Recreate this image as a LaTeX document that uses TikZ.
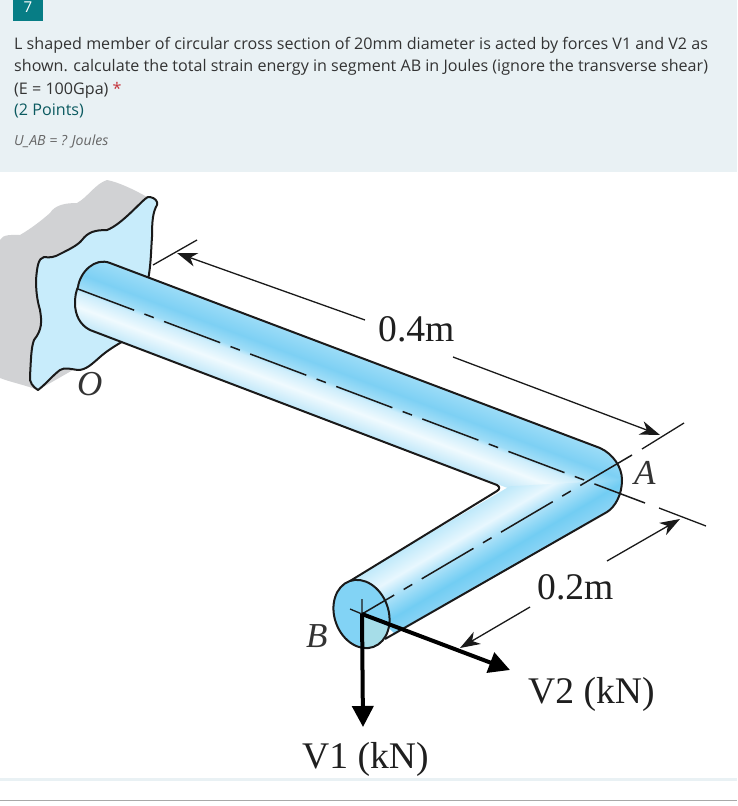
\documentclass[tikz,border=0pt]{standalone}
\usepackage{fontspec}
\setmainfont{Liberation Serif}
\newfontfamily\uifont[FakeStretch=1.007]{Open Sans}
\usetikzlibrary{arrows.meta}
\definecolor{headbg}{HTML}{E9F1F4}
\definecolor{teal7}{HTML}{077D85}
\definecolor{plateblue}{HTML}{C8ECFB}
\definecolor{wallgray}{HTML}{D1D2D4}
\definecolor{capblue}{HTML}{82D3F5}
\definecolor{cappatch}{HTML}{A6DDE8}
\definecolor{inktext}{HTML}{333333}
\definecolor{pointsteal}{HTML}{0B5A60}
\definecolor{hintgray}{HTML}{666666}
\definecolor{stara}{HTML}{C4323A}
\definecolor{ruleg}{HTML}{A8A8A8}
\definecolor{ink}{HTML}{1A1A1A}
\definecolor{la}{HTML}{C2E8F9}
\definecolor{lb}{HTML}{F0FAFE}
\definecolor{lc}{HTML}{CDEDFB}
\definecolor{ld}{HTML}{9FDDF7}
\definecolor{le}{HTML}{7DD0F4}
\definecolor{lf}{HTML}{9CDCF7}
\definecolor{sa}{HTML}{8ED5F5}
\definecolor{sb}{HTML}{72CDF3}
\definecolor{sc}{HTML}{A8E0F8}
\definecolor{sd}{HTML}{E8F7FE}
\definecolor{se}{HTML}{BFE9FA}
\pgfdeclareverticalshading{longbar}{100bp}{color(0bp)=(la);color(25bp)=(la);color(37.5bp)=(lb);color(47.5bp)=(lc);color(51bp)=(ld);color(60bp)=(le);color(75bp)=(lf);color(100bp)=(lf)}
\pgfdeclareverticalshading{shortbar}{100bp}{color(0bp)=(sa);color(25bp)=(sa);color(37.5bp)=(sb);color(50bp)=(sc);color(61bp)=(sd);color(75bp)=(se);color(100bp)=(se)}
\tikzset{
  x=1pt,y=-1pt,
  outline/.style={draw=ink,line width=2pt,line join=round},
  dimline/.style={draw=ink,line width=1.3pt},
  dimarrow/.style={dimline,-{Stealth[length=20pt,width=14pt,inset=6pt]}},
  centre/.style={draw=ink,line width=1.5pt,dash pattern=on 60pt off 11pt on 10pt off 11pt},
  force/.style={draw=black,line width=4pt,-{Triangle[length=21pt,width=21pt]},shorten >=0pt},
  bigtext/.style={inner sep=0pt,anchor=base west,font=\fontsize{37.6}{37.6}\selectfont,text=black!88},
  pointlabel/.style={inner sep=0pt,anchor=base west,font=\fontsize{35}{35}\selectfont\itshape,text=black!80},
  uitext/.style={inner sep=0pt,anchor=base west,font=\uifont\fontsize{16}{16}\selectfont,text=inktext},
}
\begin{document}
\begin{tikzpicture}
\useasboundingbox (0,0) rectangle (737,806);
\fill[white] (0,0) rectangle (737,806);
% header
\fill[headbg] (0,0) rectangle (737,172);
\fill[teal7] (13,0) rectangle (43,21);
\node[inner sep=0pt,anchor=base,font=\uifont\fontsize{15}{15}\selectfont,text=white] (num) at (28,12) {7};
\node[uitext] (l1) at (14,49) {L shaped member of circular cross section of 20mm diameter is acted by forces V1 and V2 as};
\node[uitext] (l2) at (14,71) {shown. calculate the total strain energy in segment AB in Joules (ignore the transverse shear)};
\node[uitext] (l3) at (14,94) {(E = 100Gpa) \textcolor{stara}{*}};
\node[uitext,text=pointsteal] (l4) at (14,115) {(2 Points)};
\node[uitext,font=\uifont\itshape\fontsize{14}{14}\selectfont,text=hintgray] (l5) at (14,145) {U\_AB = ? Joules};
% footer rules
\fill[headbg] (0,778) rectangle (737,781);
\fill[ruleg] (0,799.5) rectangle (737,801);
% wall
\fill[wallgray] (107,180) .. controls (118,182) and (135,190) .. (147,197) -- (120,343) -- (38,390) .. controls (25,385) and (10,382) .. (0,378) -- (0,240) .. controls (3,234) and (12,235) .. (20,235) .. controls (32,228) and (42,220) .. (50,213) .. controls (55,205) and (65,203) .. (77,203) .. controls (88,197) and (95,184) .. (107,180) -- cycle;
\draw[outline,fill=plateblue] (150,197) .. controls (155,198) and (158,201) .. (157,205) .. controls (153,212) and (152,220) .. (152,237) .. controls (151,250) and (151,265) .. (148,280) -- (125,340) .. controls (115,346) and (108,350) .. (100,357) .. controls (92,364) and (86,370) .. (78,370) .. controls (70,369) and (65,367) .. (60,370) .. controls (52,376) and (46,384) .. (38,390) .. controls (33,387) and (29,382) .. (30,376) .. controls (31,360) and (31,348) .. (34,340) .. controls (42,330) and (42,322) .. (40,310) .. controls (37,300) and (36,290) .. (36,280) .. controls (37,268) and (38,258) .. (44,257) .. controls (50,258) and (55,257) .. (60,254) .. controls (70,249) and (78,245) .. (82,240) .. controls (88,232) and (95,230) .. (107,230) .. controls (120,225) and (135,208) .. (145,199) .. controls (147,197) and (148,197) .. (150,197) -- cycle;
% bar shading
\begin{scope}
  \clip (78,287) .. controls (80,272) and (95,257) .. (110,263) -- (600,448) .. controls (613,454) and (622,467) .. (622,482) -- (498,489) -- (90,330) .. controls (80,325) and (75,315) .. (75,303) -- cycle;
  \begin{scope}[transform canvas={shift={(350,391)},rotate=-20.7}]
    \shade[shading=longbar] (-330,-35) rectangle (330,35);
  \end{scope}
\end{scope}
\begin{scope}
  \clip (622,480) .. controls (622,495) and (615,507) .. (607,512) -- (395,634) -- (345,584) -- (498,487) -- cycle;
  \begin{scope}[transform canvas={shift={(506.4,530)},rotate=30.5}]
    \shade[shading=shortbar] (-220,-36) rectangle (220,36);
  \end{scope}
\end{scope}
% bar outline
\draw[outline] (78,287) .. controls (80,272) and (95,257) .. (110,263) -- (600,448) .. controls (613,454) and (622,467) .. (622,480) .. controls (622,495) and (615,507) .. (607,512) -- (385,639);
\draw[outline] (350,581) -- (497,491) .. controls (500,489) and (500,487) .. (497,485) -- (90,330) .. controls (80,325) and (75,315) .. (75,303) .. controls (75,297) and (76,291) .. (78,287);
% end cap
\coordinate (capc) at (361.5,614);
\fill[capblue,rotate around={-70:(capc)}] (capc) ellipse [x radius=35,y radius=27];
\begin{scope}
  \clip[rotate around={-70:(capc)}] (capc) ellipse [x radius=35,y radius=27];
  \fill[cappatch] (364,617) -- (392,628) -- (392,655) -- (364,655) -- cycle;
\end{scope}
\draw[outline,rotate around={-70:(capc)}] (capc) ellipse [x radius=35,y radius=27];
% points
\coordinate (O0) at (78,289);
\coordinate (Aend) at (645,503);
\coordinate (Btop) at (632,455);
\coordinate (Bmid) at (362,614);
% centre lines
\draw[centre] (O0) -- (Aend);
\draw[centre] (Btop) -- (Bmid);
\draw[dimline] (362,599) -- (Bmid) (350,609) -- (Bmid);
% dimension 0.4m
\coordinate (oa) at (153,265); \coordinate (ob) at (197,240);
\coordinate (oc) at (177,253); \coordinate (od) at (365,320);
\draw[dimline] (oa) -- (ob);
\node[bigtext] (len04) at (378,341) {0.4m};
\draw[dimarrow] (od) -- (oc);
\coordinate (ae) at (453,357); \coordinate (af) at (660,435);
\draw[dimarrow] (ae) -- (af);
\coordinate (ag) at (642,449); \coordinate (ah) at (684,423);
\draw[dimline] (ag) -- (ah);
\coordinate (ai) at (659,508); \coordinate (aj) at (706,526);
\draw[dimline] (ai) -- (aj);
% dimension 0.2m
\coordinate (bk) at (607,561); \coordinate (bl) at (680,519);
\draw[dimarrow] (bk) -- (bl);
\node[bigtext] (len02) at (537,599) {0.2m};
\coordinate (bm) at (530,607); \coordinate (bn) at (460,648);
\draw[dimarrow] (bm) -- (bn);
% forces
\coordinate (v1tip) at (363,727); \coordinate (v2tip) at (510,670);
\draw[force] (Bmid) -- (v1tip);
\draw[force] (Bmid) -- (v2tip);
\node[bigtext] (v1) at (302,768) {V1 (kN)};
\node[bigtext] (v2) at (528,703) {V2 (kN)};
% point labels
\node[pointlabel] (O) at (77,395) {O};
\node[pointlabel] (A) at (634,484) {A};
\node[pointlabel] (B) at (306,647) {B};
\end{tikzpicture}
\end{document}
